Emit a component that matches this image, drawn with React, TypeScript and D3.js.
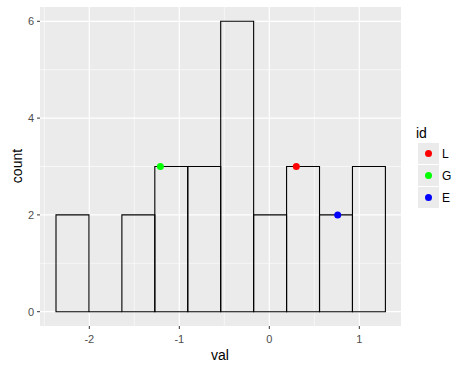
import React from "react";
import * as d3 from "d3";

const binStart = -2.37;
const binWidth = 0.366;
const binCounts = [2, 0, 2, 3, 3, 6, 2, 3, 2, 3];

const pointIds = ["L", "G", "E"];
const pointVals = [0.3, -1.21, 0.76];
const pointCounts = [3, 3, 2];
const pointColors = ["#FF0000", "#00FF00", "#0000FF"];

const xTicks = [-2, -1, 0, 1];
const xMinor = [-2.5, -1.5, -0.5, 0.5];
const yTicks = [0, 2, 4, 6];
const yMinor = [1, 3, 5];

const W = 474;
const H = 369;
const panel = { left: 40, right: 401, top: 7, bottom: 326 };

export default function App() {
  const x = d3.scaleLinear().domain([-2, 1]).range([89.3, 359.3]);
  const y = d3.scaleLinear().domain([0, 6]).range([311.7, 21.3]);
  const font = "Liberation Sans, Arial, sans-serif";

  const bins = binCounts.map((c, i) => ({
    x0: binStart + i * binWidth,
    x1: binStart + (i + 1) * binWidth,
    c,
  }));

  const barPath = (b: { x0: number; x1: number; c: number }) => {
    const p = d3.path();
    p.moveTo(x(b.x0), y(0));
    p.lineTo(x(b.x0), y(b.c));
    p.lineTo(x(b.x1), y(b.c));
    p.lineTo(x(b.x1), y(0));
    p.closePath();
    return p.toString();
  };

  return (
    <svg
      width={W}
      height={H}
      style={{ position: "absolute", left: 0, top: 0, background: "#fff" }}
    >
      <rect
        x={panel.left}
        y={panel.top}
        width={panel.right - panel.left}
        height={panel.bottom - panel.top}
        fill="#EBEBEB"
      />
      {xMinor.map((v) => (
        <line key={"xm" + v} x1={x(v)} x2={x(v)} y1={panel.top} y2={panel.bottom} stroke="#fff" strokeWidth={0.6} />
      ))}
      {yMinor.map((v) => (
        <line key={"ym" + v} y1={y(v)} y2={y(v)} x1={panel.left} x2={panel.right} stroke="#fff" strokeWidth={0.6} />
      ))}
      {xTicks.map((v) => (
        <line key={"xg" + v} x1={x(v)} x2={x(v)} y1={panel.top} y2={panel.bottom} stroke="#fff" strokeWidth={1.2} />
      ))}
      {yTicks.map((v) => (
        <line key={"yg" + v} y1={y(v)} y2={y(v)} x1={panel.left} x2={panel.right} stroke="#fff" strokeWidth={1.2} />
      ))}
      {bins.map((b, i) => (
        <path key={"b" + i} d={barPath(b)} fill="none" stroke="#000" strokeWidth={1.1} />
      ))}
      {pointIds.map((id, i) => (
        <circle key={id} cx={x(pointVals[i])} cy={y(pointCounts[i])} r={3.5} fill={pointColors[i]} />
      ))}
      {xTicks.map((v) => (
        <g key={"xt" + v}>
          <line x1={x(v)} x2={x(v)} y1={panel.bottom} y2={panel.bottom + 3} stroke="#333" strokeWidth={1} />
          <text x={x(v)} y={343} textAnchor="middle" fontFamily={font} fontSize={11} fill="#4D4D4D">
            {v < 0 ? "-" + Math.abs(v) : String(v)}
          </text>
        </g>
      ))}
      {yTicks.map((v) => (
        <g key={"yt" + v}>
          <line x1={panel.left - 3} x2={panel.left} y1={y(v)} y2={y(v)} stroke="#333" strokeWidth={1} />
          <text x={34} y={y(v)} dy="0.35em" textAnchor="end" fontFamily={font} fontSize={11} fill="#4D4D4D">
            {String(v)}
          </text>
        </g>
      ))}
      <text x={220} y={360} textAnchor="middle" fontFamily={font} fontSize={14} fill="#000">
        val
      </text>
      <text
        transform={`translate(22,166) rotate(-90)`}
        textAnchor="middle"
        fontFamily={font}
        fontSize={14}
        fill="#000"
      >
        count
      </text>
      <text x={416} y={138} fontFamily={font} fontSize={14} fill="#000">
        id
      </text>
      {pointIds.map((id, i) => (
        <g key={"lg" + id}>
          <rect x={418} y={143 + i * 22} width={21} height={21} fill="#EBEBEB" />
          <circle cx={428.5} cy={153.5 + i * 22} r={3.5} fill={pointColors[i]} />
          <text x={442} y={153.5 + i * 22} dy="0.35em" fontFamily={font} fontSize={12} fill="#000">
            {id}
          </text>
        </g>
      ))}
    </svg>
  );
}
